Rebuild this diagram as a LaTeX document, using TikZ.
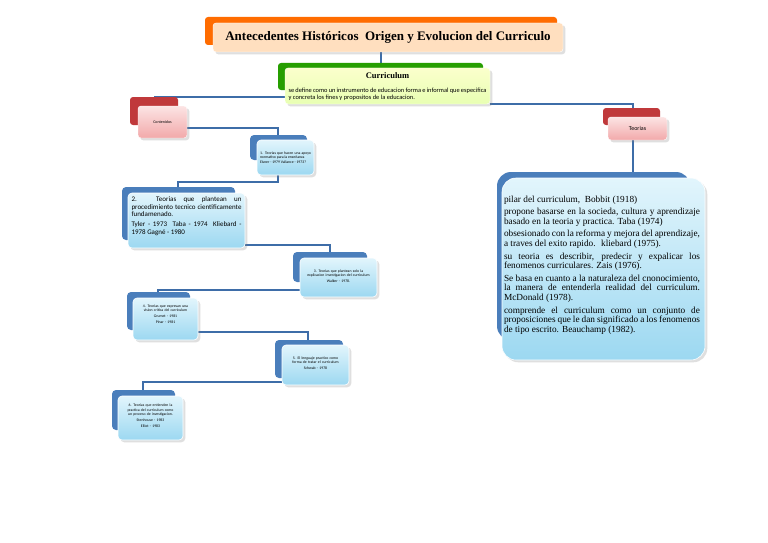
\documentclass[tikz,border=0pt]{standalone}
\usepackage{fontspec}
\setmainfont{Liberation Serif}
\newfontfamily\calfnt{Carlito}
\usetikzlibrary{shadows}
\definecolor{lnk}{HTML}{3E6DA8}
\definecolor{bback}{HTML}{4A7EBB}
\definecolor{ctop}{HTML}{E2F5FC}
\definecolor{cbot}{HTML}{9CD8F1}
\definecolor{rback}{HTML}{C0393B}
\definecolor{rtop}{HTML}{FCE4E4}
\definecolor{rbot}{HTML}{F2A9AA}
\tikzset{
 lnk/.style={draw=lnk,line width=1.6pt},
 back/.style={fill=bback,rounded corners=4pt},
 front/.style={top color=ctop,bottom color=cbot,draw=white,line width=0.6pt,rounded corners=4pt,drop shadow={opacity=0.25}},
 redback/.style={fill=rback,rounded corners=3pt},
 redfront/.style={top color=rtop,bottom color=rbot,draw=white,rounded corners=3pt,drop shadow={opacity=0.25}},
 txt/.style={font=\calfnt,align=justify,inner sep=0pt,execute at begin node={\hyphenpenalty=10000\exhyphenpenalty=10000}},
}
\begin{document}
\begin{tikzpicture}[x=1pt,y=-1pt]
\useasboundingbox[fill=white] (0,0) rectangle (768,543);
% connectors (behind)
\draw[lnk] (381,52) -- (381,68);
\draw[lnk] (285,97) -- (155,97) -- (155,100);
\draw[lnk] (490,104) -- (633,104) -- (633,112);
\draw[lnk] (633,140) -- (633,175);
\draw[lnk] (187,128) -- (278,128) -- (278,137);
\draw[lnk] (278,175) -- (278,182) -- (178,182) -- (178,189);
\draw[lnk] (245,245) -- (330,245) -- (330,254);
\draw[lnk] (300,290) -- (158,290) -- (158,294);
\draw[lnk] (198,332) -- (308,332) -- (308,342);
\draw[lnk] (282,382) -- (143,382) -- (143,392);
% title
\fill[orange!85!red,rounded corners=3pt] (205,17) rectangle (557,45);
\node[fill=orange!25,draw=white,minimum width=350pt,minimum height=29pt,rounded corners=3pt,drop shadow={opacity=0.25},font=\bfseries\fontsize{13}{15}\selectfont] (title) at (388,37.5) {Antecedentes Históricos \ Origen y Evolucion del Curriculo};
% curriculum
\fill[green!55!black!85!yellow,rounded corners=3pt] (278,63) rectangle (483,90);
\node[top color=green!8!yellow!20,bottom color=green!30!yellow!30,draw=white,rounded corners=3pt,drop shadow={opacity=0.25},minimum width=205pt,minimum height=36pt] (cur) at (387.5,86) {};
\node[font=\bfseries\fontsize{8.5}{10}\selectfont] at (387.5,76) {Curriculum};
\node[txt,text width=198pt,font=\calfnt\fontsize{6.4}{7.4}\selectfont] at (387.5,94) {se define como un instrumento de educacion forma e informal que especifica y concreta los fines y propositos de la educacion.};
% contenidos
\fill[redback] (130,97) rectangle (178,125);
\node[redfront,minimum width=49pt,minimum height=32pt,font=\calfnt\fontsize{4}{5}\selectfont] (cont) at (162.5,122) {Contenidos};
% teorias
\fill[redback] (603,108) rectangle (660,125);
\node[redfront,minimum width=59pt,minimum height=23pt,font=\calfnt\fontsize{6}{7}\selectfont] (teo) at (637.5,128.5) {Teorias};
% box1
\fill[back] (250,135) rectangle (307,160);
\node[front,minimum width=57pt,minimum height=35pt] (b1) at (285.5,157.5) {};
\node[txt,text width=51pt,font=\calfnt\fontsize{3.8}{4.4}\selectfont] at (285.5,157.5) {1.\ \ Teorias que hacen una apoyo normativo para la enseñanza\\[0.8pt] Eisner - 1979 Vallance - 1973?};
% box2
\fill[back] (122,187) rectangle (235,240);
\node[front,minimum width=117pt,minimum height=55pt] (b2) at (186.5,220.5) {};
\node[txt,text width=110pt,font=\calfnt\fontsize{7}{7.8}\selectfont] at (186.5,216) {2. Teorias que plantean un procedimiento tecnico cientificamente fundamenado.\\[2pt] Tyler - 1973 \ Taba - 1974 \ Kliebard - 1978 Gagné - 1980};
% box3
\fill[back] (293,252) rectangle (367,282);
\node[front,minimum width=77pt,minimum height=39pt] (b3) at (338.5,277.5) {};
\node[txt,align=center,text width=70pt,font=\calfnt\fontsize{3.8}{4.5}\selectfont] at (338.5,276) {3. Teorias que plantean solo la explicacion investigacion del curriculum\\[1.5pt] Walker - 1978.};
% box4
\fill[back] (127,292) rectangle (190,330);
\node[front,minimum width=65pt,minimum height=42pt] (b4) at (165.5,319) {};
\node[txt,align=center,text width=58pt,font=\calfnt\fontsize{3.8}{4.5}\selectfont] at (165.5,314) {4. Teorias que expresan una vision critica del curriculum\\[1.5pt] Grumet - 1981\\[1.5pt] Pinar - 1981};
% box5
\fill[back] (275,340) rectangle (343,378);
\node[front,minimum width=67pt,minimum height=40pt] (b5) at (315.5,365) {};
\node[txt,align=center,text width=61pt,font=\calfnt\fontsize{3.8}{4.5}\selectfont] at (315.5,363) {5. El lenguaje practico como forma de tratar el curriculum\\[1.5pt] Schwab - 1978};
% box6
\fill[back] (112,390) rectangle (175,430);
\node[front,minimum width=65pt,minimum height=44pt] (b6) at (150.5,418) {};
\node[txt,align=center,text width=59pt,font=\calfnt\fontsize{3.8}{4.5}\selectfont] at (150.5,416) {6. Teorias que entienden la practica del curriculum como un proceso de investigacion.\\[1.5pt] Stenhouse - 1983\\[1.5pt] Elliot - 1983};
% big box
\fill[bback,rounded corners=14pt] (497,172) rectangle (690,340);
\node[front,rounded corners=14pt,minimum width=203pt,minimum height=182pt] (big) at (603.5,269) {};
\node[txt,text width=196pt,font=\fontsize{9.3}{9.6}\selectfont] at (602,265) {pilar del curriculum, \ Bobbit (1918)\\[3pt]
propone basarse en la socieda, cultura y aprendizaje basado en la teoria y practica. Taba (1974)\\[3pt]
obsesionado con la reforma y mejora del aprendizaje, a traves del exito rapido. \ kliebard (1975).\\[3pt]
su teoria es describir, predecir y expalicar los fenomenos curriculares. Zais (1976).\\[3pt]
Se basa en cuanto a la naturaleza del cnonocimiento, la manera de entenderla realidad del curriculum. McDonald (1978).\\[3pt]
comprende el curriculum como un conjunto de proposiciones que le dan significado a los fenomenos de tipo escrito. Beauchamp (1982).};
\end{tikzpicture}
\end{document}
